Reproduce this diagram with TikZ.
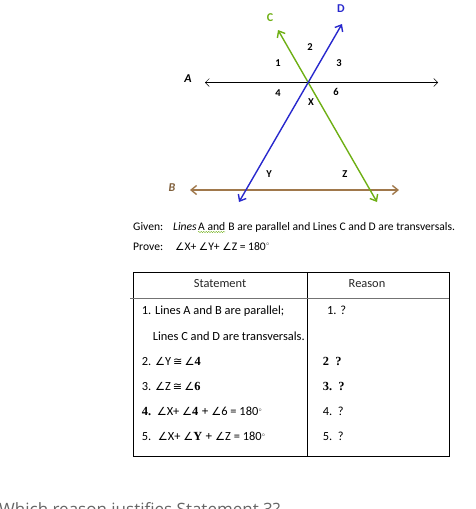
\documentclass[tikz,border=0pt]{standalone}
\usepackage{fontspec}
\setmainfont{Carlito}
\newfontfamily\symfont[Scale=0.9]{DejaVu Sans}
\newfontfamily\camfont{Liberation Serif}
\newfontfamily\askfont{Open Sans}
\usetikzlibrary{arrows.meta, positioning, calc, decorations.pathmorphing}

\definecolor{lineC}{RGB}{110,175,20}
\definecolor{lineD}{RGB}{40,40,205}
\definecolor{lineB}{RGB}{160,120,75}

\newcommand{\ang}{{\symfont ∠}}
\newcommand{\cng}{{\symfont ≅}}
\newcommand{\dg}{\textsuperscript{\fontsize{5}{5}\selectfont$\circ$}}
\newcommand{\cb}[1]{{\camfont\bfseries #1}}

\begin{document}
\begin{tikzpicture}[
    x=1pt, y=-1pt,
    lbl/.style={font=\fontsize{10.5}{10.5}\selectfont\bfseries, inner sep=0pt},
    linename/.style={font=\fontsize{12}{12}\selectfont\bfseries, inner sep=0pt},
    lineA/.style={thin, {Straight Barb[length=4pt,width=8pt]}-{Straight Barb[length=4pt,width=8pt]}},
    trans/.style={line width=1.4pt, {Straight Barb[length=5.5pt,width=9pt]}-{Straight Barb[length=5.5pt,width=9pt]}},
    txt/.style={font=\fontsize{11.6}{13}\selectfont, inner sep=0pt, anchor=base west},
    cell/.style={font=\fontsize{12.4}{14}\selectfont, inner sep=0pt, anchor=base west},
    rule/.style={line width=0.8pt}
]
\useasboundingbox (0,0) rectangle (476,509);

% Lines A, B and the transversals C, D
\coordinate (a1) at (205,82.5);
\coordinate (a2) at (438,82.5);
\coordinate (b1) at (190,190);
\coordinate (b2) at (399,190);
\coordinate (c1) at (278,30);
\coordinate (c2) at (377,202);
\coordinate (d1) at (342,24);
\coordinate (d2) at (239,202);

\draw[lineA] (a1) -- (a2);
\draw[trans, lineB] (b1) -- (b2);
\draw[trans, lineC] (c1) -- (c2);
\draw[trans, lineD] (d1) -- (d2);

% Line names
\node[linename] (nameA) at (188,79) {\itshape A};
\node[linename, text=lineB!80!black] (nameB) at (172,188) {\itshape B};
\node[linename, text=lineC] (nameC) at (270,18) {C};
\node[linename, text=lineD] (nameD) at (341,9) {D};

% Angle labels
\node[lbl] (ang1) at (278,63) {1};
\node[lbl] (ang2) at (310,47) {2};
\node[lbl] (ang3) at (339,63) {3};
\node[lbl] (ang4) at (278,93) {4};
\node[lbl] (ang6) at (336,92) {6};
\node[lbl] (angX) at (311,102) {X};
\node[lbl] (angY) at (269,174) {Y};
\node[lbl] (angZ) at (345,174) {Z};

% Given and Prove
\node[txt] (given) at (133,230) {Given:};
\node[txt] (lines) at (173,230) {\itshape Lines};
\node[txt] (aand) at (198,230) {A and};
\node[txt] (rest) at ([xshift=2.8pt]aand.base east) {B are parallel and Lines C and D are transversals.};
\draw[lineC, decorate, decoration={snake, amplitude=0.6pt, segment length=2.5pt}]
    ([yshift=-2pt]aand.base west) -- ([yshift=-2pt]aand.base east);
\node[txt] (prove) at (133,250) {Prove:};
\node[txt] (goal) at (175,250) {\ang X+ \ang Y+ \ang Z = 180\dg};

% Table
\coordinate (tl) at (133,272);
\coordinate (br) at (449,456);
\coordinate (mt) at (307,272);
\coordinate (mb) at (307,456);
\coordinate (h1) at (130,298);
\coordinate (h2) at (449,298);
\draw[rule] (tl) rectangle (br);
\draw[rule] (mt) -- (mb);
\draw[rule, black!55] (h1) -- (h2);

\node[cell, anchor=base, text=black!85] (hst) at (220,287) {Statement};
\node[cell, anchor=base, text=black!85] (hrs) at (367,287) {Reason};

\node[cell] (st1) at (141.7,314) {1. Lines A and B are parallel;};
\node[cell] (st1b) at (152.7,340.5) {Lines C and D are transversals.};
\node[cell] (st2) at (141.7,365.5) {2. \ang Y\,\cng\,\ang\cb{4}};
\node[cell] (st3) at (141.7,390.5) {3. \ang Z\,\cng\,\ang\cb{6}};
\node[cell] (st4) at (141.7,415.5) {\cb{4.}\ \ \ang X+ \ang\cb{4 +} \ang 6 = 180\dg};
\node[cell] (st5) at (141.7,440.5) {5. \ \ang X+ \ang\cb{Y +} \ang Z = 180\dg};

\node[cell] (rs1) at (327,314) {1. ?};
\node[cell] (rs2) at (322.7,365.5) {\cb{2\ \ ?}};
\node[cell] (rs3) at (322.7,390.5) {\cb{3.\ \ ?}};
\node[cell] (rs4) at (322.7,415.5) {4.\ \ ?};
\node[cell] (rs5) at (322.7,440.5) {5.\ \ ?};

% Question, cut off at the bottom edge
\node[inner sep=0pt, anchor=north west, text=black!60,
      font=\askfont\fontsize{17}{17}\selectfont] (ask) at (-1,502) {Which reason justifies Statement 3?};
\end{tikzpicture}
\end{document}
